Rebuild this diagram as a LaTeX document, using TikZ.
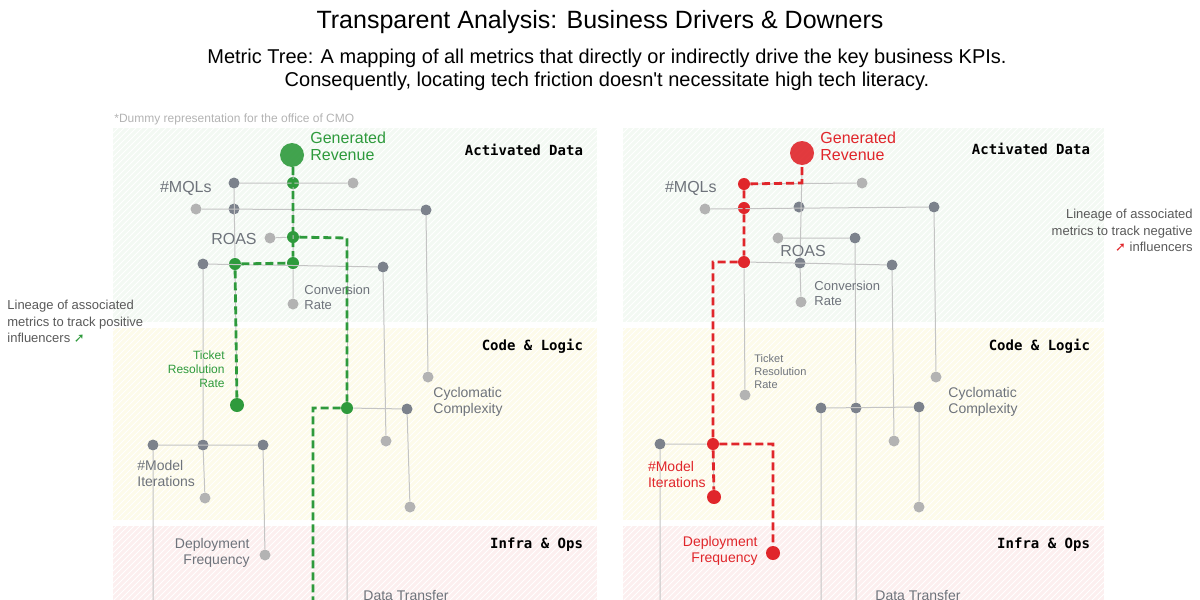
\documentclass[tikz,border=0pt]{standalone}
\usepackage{fontspec}
\defaultfontfeatures[\rmfamily]{}
\defaultfontfeatures{}
\setmainfont{Liberation Sans}
\setmonofont{DejaVu Sans Mono}
\usetikzlibrary{patterns}
\definecolor{gr}{HTML}{2E9A3C}
\definecolor{rd}{HTML}{E0262B}
\definecolor{dk}{HTML}{7C828C}
\definecolor{lt}{HTML}{B3B3B3}
\definecolor{ln}{HTML}{C4C4C4}
\definecolor{lbl}{HTML}{6E737B}
\definecolor{bg1}{HTML}{F3F9F3}
\definecolor{bg2}{HTML}{FDFBEA}
\definecolor{bg3}{HTML}{FCEFEF}
\tikzset{
 dot/.style={circle,inner sep=0pt,minimum size=5.5pt},
 dkn/.style={dot,fill=dk},
 ltn/.style={dot,fill=lt},
 gn/.style={dot,fill=gr,minimum size=6pt},
 gbig/.style={dot,fill=gr,minimum size=7pt},
 rn/.style={dot,fill=rd,minimum size=6pt},
 rbig/.style={dot,fill=rd,minimum size=7pt},
 root/.style={dot,minimum size=12pt},
 wire/.style={draw=ln,line width=0.5pt},
 gpath/.style={draw=gr,dashed,line width=1.4pt,dash pattern=on 4pt off 2pt},
 rpath/.style={draw=rd,dashed,line width=1.4pt,dash pattern=on 4pt off 2pt},
 band/.style={font=\ttfamily\bfseries\fontsize{7}{9}\selectfont,anchor=east},
 glab/.style={text=lbl,font=\fontsize{6.5}{7.5}\selectfont,align=left,inner sep=0pt},
 slab/.style={text=lbl,font=\fontsize{5.5}{6.5}\selectfont,align=left,inner sep=0pt},
 big/.style={font=\fontsize{8}{8.5}\selectfont,align=left,inner sep=0pt},
 ann/.style={text=black!65,inner sep=0pt,font=\fontsize{6.5}{8.2}\selectfont},
}
\newcommand\myarrow[1]{{\color{#1}\fontspec{DejaVu Sans}\fontsize{6.5}{6}\selectfont ➚}}
\begin{document}
\begin{tikzpicture}[x=0.5pt,y=-0.5pt]
\useasboundingbox (0,0) rectangle (1200,600);
\clip (0,0) rectangle (1200,600);
% bands
\foreach \xa/\xb in {113/597,623/1104}{
 \fill[bg1] (\xa,128) rectangle (\xb,322);
 \fill[bg2] (\xa,328) rectangle (\xb,520);
 \fill[bg3] (\xa,526) rectangle (\xb,600);
 \fill[pattern=north east lines,pattern color=white] (\xa,128) rectangle (\xb,600);
}
\node (title) at (600,22) {\fontsize{12.5}{14}\selectfont Transparent Analysis: Business Drivers \& Downers};
\node[align=center,font=\fontsize{10}{12.5}\selectfont] (sub) at (607,70) {Metric Tree: A mapping of all metrics that directly or indirectly drive the key business KPIs.\\[-1pt]Consequently, locating tech friction doesn't necessitate high tech literacy.};
\node[anchor=west,text=lt,inner sep=0pt] (dummy) at (114,119) {\fontsize{6}{7}\selectfont *Dummy representation for the office of CMO};
\node[band] (b1) at (590,150) {Activated Data};
\node[band] (b2) at (590,346) {Code \& Logic};
\node[band] (b3) at (590,545) {Infra \& Ops};
\node[band] (b4) at (1097,149) {Activated Data};
\node[band] (b5) at (1097,346) {Code \& Logic};
\node[band] (b6) at (1097,545) {Infra \& Ops};
\node[ann,anchor=north west,align=left] (annl) at (7,300) {Lineage of associated\\metrics to track positive\\influencers \myarrow{gr}};
\node[ann,anchor=north east,align=right] (annr) at (1193,209) {Lineage of associated\\metrics to track negative\\\myarrow{rd} influencers};

% ================= LEFT =================
\coordinate (Lb1) at (153,600); \coordinate (Lb2) at (347,600); \coordinate (Lb3) at (313,600);
\coordinate (Lc1) at (313,408); \coordinate (Lc2) at (347,238); \coordinate (Lc3) at (293,167);
\node[dkn] (l11) at (234,183) {}; \node[gn] (l12) at (293,183) {}; \node[ltn] (l13) at (353,183) {};
\node[ltn] (l21) at (196,209) {}; \node[dkn] (l22) at (234,209) {}; \node[dkn] (l23) at (426,210) {};
\node[ltn] (l31) at (270,238) {}; \node[gn] (l32) at (293,237) {};
\node[dkn] (l41) at (203,264) {}; \node[gn] (l42) at (235,264) {}; \node[gn] (l43) at (293,263) {}; \node[dkn] (l44) at (383,267) {};
\node[ltn] (lcr) at (293,304) {};
\node[gbig] (ltk) at (237,405) {};
\node[ltn] (lcy) at (428,377) {};
\node[gn] (l51) at (347,408) {}; \node[dkn] (l52) at (407,409) {};
\node[ltn] (l53) at (386,441) {}; \node[ltn] (l54) at (410,507) {};
\node[dkn] (l61) at (153,445) {}; \node[dkn] (l62) at (203,445) {}; \node[dkn] (l63) at (263,445) {};
\node[ltn] (l64) at (205,498) {}; \node[ltn] (ldp) at (265,555) {};
\path[wire] (l11)--(l13) (l21)--(l23) (l11)--(l42) (l31)--(l32) (l41)--(l44);
\path[wire] (l23)--(lcy) (l41)--(l62) (l44)--(l53) (l43)--(lcr) (l51)--(l52) (l52)--(l54);
\path[wire] (l61)--(l63) (l61)--(Lb1) (l62)--(l64) (l63)--(ldp) (l51)--(Lb2) (Lc3)--(l43) (l42)--(ltk);
\path[wire] (Lc2)--(l51);
\path[gpath] (Lc3)--(l43) (l32)--(Lc2)--(l51) (l51)--(Lc1)--(Lb3) (l42)--(l43) (l42)--(ltk);
\node[root,fill=gr,opacity=0.9] (lgr) at (292,155) {};
\node[big,text=gr,anchor=west] (lgrt) at (310,146) {Generated\\Revenue};
\node[glab,anchor=east,font=\fontsize{8}{8}\selectfont] (lmql) at (212,188) {\#MQLs};
\node[glab,anchor=east,font=\fontsize{8}{8}\selectfont] (lroas) at (257,239) {ROAS};
\node[glab,anchor=west] (lcrt) at (304,297) {Conversion\\Rate};
\node[slab,anchor=east,align=right,text=gr,font=\fontsize{6}{7}\selectfont] (ltkt) at (225,369) {Ticket\\Resolution\\Rate};
\node[glab,anchor=west,font=\fontsize{7}{8}\selectfont] (lcyt) at (433,402) {Cyclomatic\\Complexity};
\node[glab,anchor=west,font=\fontsize{7}{8}\selectfont] (lmit) at (137,473) {\#Model\\Iterations};
\node[glab,anchor=east,align=right,font=\fontsize{7}{8}\selectfont] (ldpt) at (250,553) {Deployment\\Frequency};
\node[glab,anchor=north west,font=\fontsize{7}{8}\selectfont] (ldtt) at (363,590) {Data Transfer};

% ================= RIGHT =================
\coordinate (Rb1) at (660,600); \coordinate (Rb2) at (821,600); \coordinate (Rb3) at (856,600);
\coordinate (Rc0) at (802,183); \coordinate (Rc1) at (713,262); \coordinate (Rc2) at (773,444); \coordinate (Rc3) at (802,167);
\node[rn] (r11) at (744,184) {}; \node[ltn] (r12) at (862,183) {};
\node[ltn] (r21) at (705,209) {}; \node[rn] (r22) at (744,208) {}; \node[dkn] (r23) at (799,207) {}; \node[dkn] (r24) at (934,207) {};
\node[ltn] (r31) at (778,238) {}; \node[dkn] (r32) at (855,238) {};
\node[rn] (r41) at (744,262) {}; \node[dkn] (r42) at (800,263) {}; \node[dkn] (r43) at (892,265) {};
\node[ltn] (rcr) at (801,302) {};
\node[ltn] (rtk) at (745,395) {};
\node[ltn] (rcy) at (936,377) {};
\node[dkn] (r51) at (821,408) {}; \node[dkn] (r52) at (856,408) {}; \node[dkn] (r53) at (919,407) {};
\node[ltn] (r54) at (894,441) {}; \node[ltn] (r55) at (919,507) {};
\node[dkn] (r61) at (660,444) {}; \node[rn] (r62) at (713,444) {};
\node[rbig] (rmi) at (714,497) {};
\node[rbig] (rdp) at (773,553) {};
\path[wire] (r11)--(r12) (r21)--(r24) (Rc3)--(r42) (r42)--(rcr) (r24)--(rcy) (r31)--(r32) (r32)--(r52) (r52)--(Rb3);
\path[wire] (r41)--(r43) (r43)--(r54) (r41)--(rtk) (r51)--(r53) (r51)--(Rb2) (r53)--(r55) (r61)--(r62) (r61)--(Rb1) (r62)--(rmi);
\path[rpath] (Rc3)--(Rc0)--(r11) (r11)--(r41) (r41)--(Rc1)--(r62) (r62)--(rmi) (r62)--(Rc2)--(rdp);
\node[root,fill=rd,opacity=0.9] (rgr) at (802,153) {};
\node[big,text=rd,anchor=west] (rgrt) at (820,146) {Generated\\Revenue};
\node[glab,anchor=east,font=\fontsize{8}{8}\selectfont] (rmql) at (717,188) {\#MQLs};
\node[glab,anchor=center,font=\fontsize{8}{8}\selectfont] (rroas) at (803,251) {ROAS};
\node[glab,anchor=west] (rcrt) at (814,293) {Conversion\\Rate};
\node[slab,anchor=west] (rtkt) at (754,372) {Ticket\\Resolution\\Rate};
\node[glab,anchor=west,font=\fontsize{7}{8}\selectfont] (rcyt) at (948,402) {Cyclomatic\\Complexity};
\node[glab,anchor=east,align=left,text=rd,font=\fontsize{7}{8}\selectfont] (rmit) at (706,474) {\#Model\\Iterations};
\node[glab,anchor=east,align=right,text=rd,font=\fontsize{7}{8}\selectfont] (rdpt) at (758,551) {Deployment\\Frequency};
\node[glab,anchor=north west,font=\fontsize{7}{8}\selectfont] (rdtt) at (875,590) {Data Transfer};
\end{tikzpicture}
\end{document}
